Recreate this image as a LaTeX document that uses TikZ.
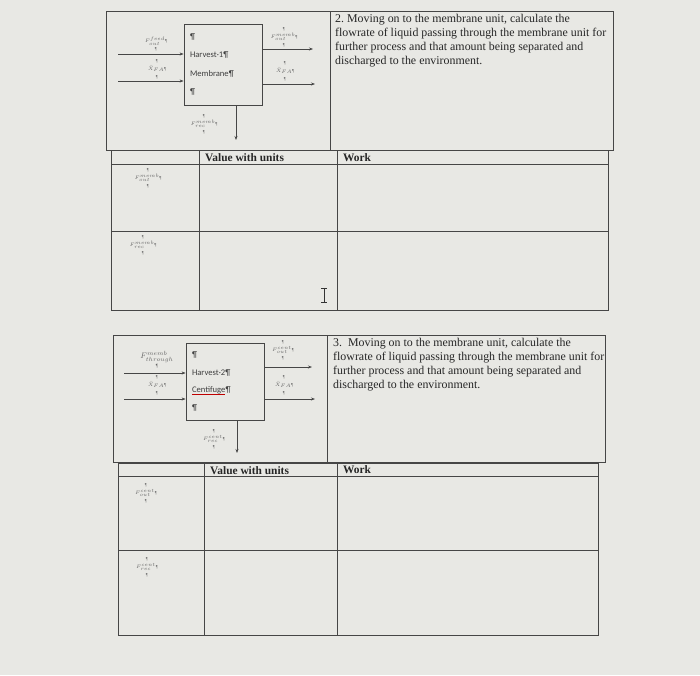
\documentclass[tikz,border=0pt]{standalone}
\usepackage{fontspec}
\setmainfont{Liberation Serif}
\newfontfamily\calfont{Carlito}
\usetikzlibrary{arrows.meta,positioning}
\definecolor{paper}{RGB}{232,232,228}
\definecolor{ink}{RGB}{70,70,70}
\newcommand\redline[1]{\leavevmode\setbox0\hbox{#1}\rlap{\textcolor{red!75!black}{\rule[-1.8pt]{\wd0}{0.6pt}}}\box0}

\begin{document}
\begin{tikzpicture}[x=1pt,y=-1pt,>={Stealth[length=4pt,width=3pt]},
  frame/.style={draw=ink,line width=0.7pt},
  unit box/.style={draw=ink,line width=0.8pt,text width=66pt,inner sep=6pt,
    align=left,font=\calfont\fontsize{8.6}{18.3}\selectfont,text=black!75},
  flow/.style={->,draw=ink,line width=0.8pt},
  stream label/.style={font=\fontsize{4.5}{8}\selectfont,text=black!60,align=center,inner sep=0pt},
  task text/.style={anchor=north west,align=left,font=\fontsize{11.9}{14}\selectfont,text=black!85,inner sep=0pt},
  head text/.style={anchor=west,font=\bfseries\fontsize{11.4}{12}\selectfont,text=black!85,inner sep=0pt}]
 			\fill[paper] (0,0) rectangle (700,675);

 			% question 2: membrane
 			\draw[frame] (106,11) rectangle (613,150);
 			\draw[frame] (330,11) -- (330,150);
 			\node[unit box,minimum height=81pt] (harv1) at (223,64.5) {¶\\Harvest·1¶\\Membrane¶\\¶};
 			\coordinate (in1a) at (118,54);
 			\coordinate (in1b) at (118,81);
 			\coordinate (out1a) at (313,49);
 			\coordinate (out1b) at (315,84);
 			\coordinate (dn1) at (236,140);
 			\draw[flow] (in1a) -- (in1a -| harv1.west);
 			\draw[flow] (in1b) -- (in1b -| harv1.west);
 			\draw[flow] (harv1.east |- out1a) -- (out1a);
 			\draw[flow] (harv1.east |- out1b) -- (out1b);
 			\draw[flow] (harv1.south -| dn1) -- (dn1);
 			\node[stream label] (feed1) at (156,44) {$F^{feed}_{out}$¶\\¶};
 			\node[stream label] (xfa1) at (157,69) {¶\\$\bar{X}_{FA}$¶\\¶};
 			\node[stream label] (memb1) at (284,37) {¶\\$F^{memb}_{out}$¶\\¶};
 			\node[stream label] (xfa2) at (285,71) {¶\\$\bar{X}_{FA}$¶\\¶};
 			\node[stream label] (rec1) at (204,124) {¶\\$F^{memb}_{rec}$¶\\¶};
 			\node[task text] (task2) at (335,14) {2.\ Moving on to the membrane unit, calculate the\\flowrate of liquid passing through the membrane unit for\\further process and that amount being separated and\\discharged to the environment.};

 			% table for question 2
 			\draw[frame] (111,150) rectangle (608,310);
 			\draw[frame] (111,164) -- (608,164);
 			\draw[frame] (111,231) -- (608,231);
 			\draw[frame] (199,150) -- (199,310);
 			\draw[frame] (337,150) -- (337,310);
 			\node[head text] (val1) at (205,158) {Value with units};
 			\node[head text] (work1) at (343,158) {Work};
 			\node[stream label] (row1) at (148,178) {¶\\$F^{memb}_{out}$¶\\¶};
 			\node[stream label] (row2) at (143,245) {¶\\$F^{memb}_{rec}$¶\\¶};
 			\node[inner sep=0pt,minimum width=5pt,minimum height=14pt] (cursor) at (324,295) {};
 			\draw[black!80,line width=0.6pt] (cursor.north west) -- (cursor.north east)
 			  (cursor.south west) -- (cursor.south east) (cursor.north) -- (cursor.south);

 			% question 3: centrifuge
 			\draw[frame] (113,335) rectangle (605,462);
 			\draw[frame] (327,335) -- (327,462);
 			\node[unit box,minimum height=77pt,font=\calfont\fontsize{8.6}{17.6}\selectfont] (harv2) at (225,381.5) {¶\\Harvest·2¶\\\redline{Centifuge}¶\\¶};
 			\coordinate (in2a) at (124,373);
 			\coordinate (in2b) at (124,399);
 			\coordinate (out2a) at (312,367);
 			\coordinate (out2b) at (315,399);
 			\coordinate (dn2) at (237,453);
 			\draw[flow] (in2a) -- (in2a -| harv2.west);
 			\draw[flow] (in2b) -- (in2b -| harv2.west);
 			\draw[flow] (harv2.east |- out2a) -- (out2a);
 			\draw[flow] (harv2.east |- out2b) -- (out2b);
 			\draw[flow] (harv2.south -| dn2) -- (dn2);
 			\node[stream label,font=\fontsize{8}{7}\selectfont] (thru2) at (157,360) {$F^{memb}_{through}$\\[1pt]{\tiny ¶}};
 			\node[stream label] (xfa3) at (157,385) {¶\\$\bar{X}_{FA}$¶\\¶};
 			\node[stream label] (cent1) at (283,350) {¶\\$F^{cent}_{out}$¶\\¶};
 			\node[stream label] (xfa4) at (284,385) {¶\\$\bar{X}_{FA}$¶\\¶};
 			\node[stream label] (rec2) at (214,439) {¶\\$F^{cent}_{rec}$¶\\¶};
 			\node[task text] (task3) at (333,338) {3.\ \ Moving on to the membrane unit, calculate the\\flowrate of liquid passing through the membrane unit for\\further process and that amount being separated and\\discharged to the environment.};

 			% table for question 3
 			\draw[frame] (118,463) rectangle (598,635);
 			\draw[frame] (118,476) -- (598,476);
 			\draw[frame] (118,550) -- (598,550);
 			\draw[frame] (204,463) -- (204,635);
 			\draw[frame] (337,463) -- (337,635);
 			\node[head text] (val2) at (210,471) {Value with units};
 			\node[head text] (work2) at (343,470) {Work};
 			\node[stream label] (row3) at (146,493) {¶\\$F^{cent}_{out}$¶\\¶};
 			\node[stream label] (row4) at (147,567) {¶\\$F^{cent}_{rec}$¶\\¶};
\end{tikzpicture}
\end{document}
